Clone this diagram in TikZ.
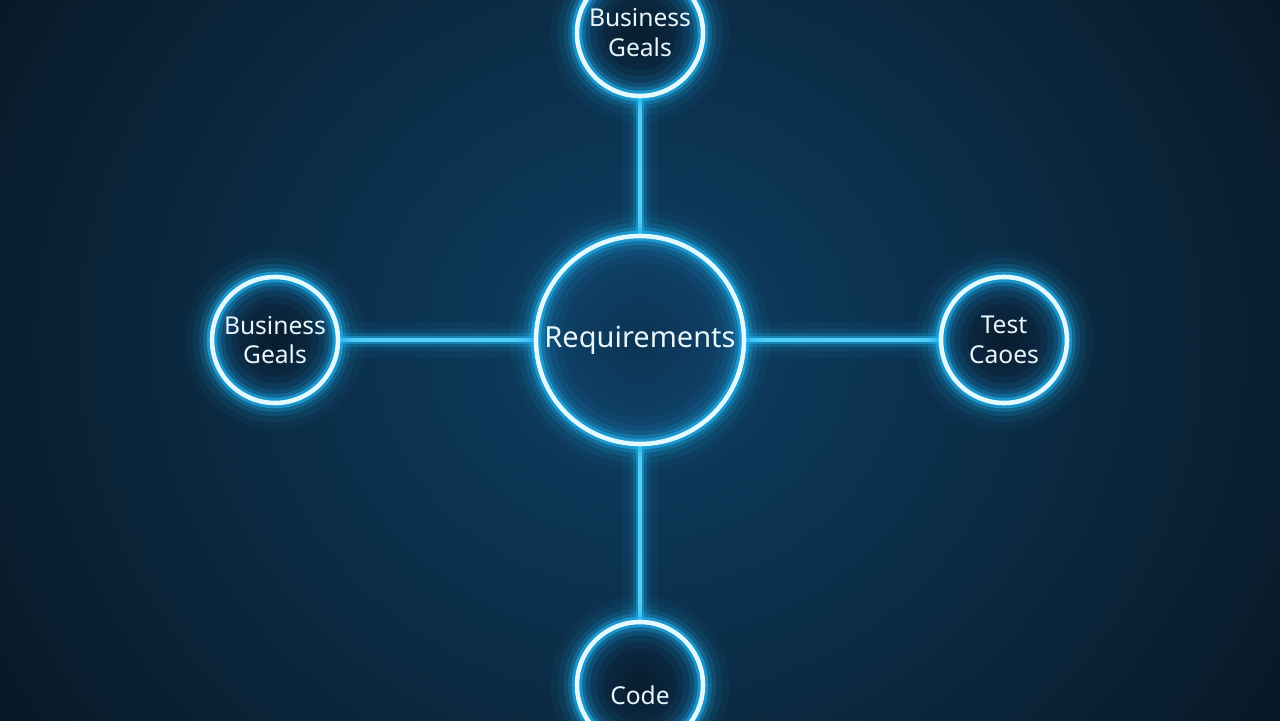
\documentclass[tikz,border=0pt]{standalone}
\usepackage{fontspec}
\setmainfont{Noto Sans}
\pgfdeclarelayer{bg}
\pgfdeclarelayer{glow}
\pgfsetlayers{bg,glow,main}
\definecolor{bgin}{HTML}{0E3F64}
\definecolor{bgout}{HTML}{07121C}
\definecolor{glowc}{HTML}{1FB4F0}
\definecolor{corec}{HTML}{E2F9FF}
\definecolor{linec}{HTML}{55D0F8}
\definecolor{hubin}{HTML}{0C3454}
\definecolor{hubout}{HTML}{10426A}
\definecolor{satin}{HTML}{081C2C}
\definecolor{satout}{HTML}{0D3050}
\definecolor{txt}{HTML}{E8F6FB}
\tikzset{
  hub/.style={circle, inner sep=0pt, minimum size=4.16cm, draw=corec, line width=2.6pt,
    text=txt, font=\fontsize{16.5}{20}\selectfont},
  sat/.style={circle, inner sep=0pt, minimum size=2.52cm, draw=corec, line width=2.6pt,
    text=txt, align=center, font=\fontsize{14}{17}\selectfont},
  linkcore/.style={draw=linec, line width=2.2pt},
}
\begin{document}
\begin{tikzpicture}
\useasboundingbox (0,0) rectangle (25.6,14.4);
\begin{pgfonlayer}{bg}
  \begin{scope}
    \clip (0,0) rectangle (25.6,14.4);
    \shade[inner color=bgin, outer color=bgout] (-5,-9) rectangle (30.6,24.2);
  \end{scope}
\end{pgfonlayer}

\node[hub] (req) at (12.8,7.6) {Requirements};
\node[sat] (top) at (12.8,13.74) {Business\\Geals};
\node[sat] (left) at (5.5,7.6) {Business\\Geals};
\node[sat] (right) at (20.08,7.6) {Test\\Caoes};
\node[sat, label={[text=txt, font=\fontsize{14}{17}\selectfont, yshift=-0.2cm]center:Code}] (code) at (12.8,0.7) {};

\begin{pgfonlayer}{bg}
  \shade[inner color=hubin, outer color=hubout] (req.center) circle (2.08cm);
  \foreach \n in {top,left,right,code}
    \shade[inner color=satin, outer color=satout] (\n.center) circle (1.26cm);
\end{pgfonlayer}

\begin{pgfonlayer}{glow}
  % connector glow
  \foreach \w/\o in {20/0.05,13/0.1,8/0.2,5/0.45} {
    \draw[glowc, line width=\w pt, opacity=\o] (req) -- (top);
    \draw[glowc, line width=\w pt, opacity=\o] (req) -- (left);
    \draw[glowc, line width=\w pt, opacity=\o] (req) -- (right);
    \draw[glowc, line width=\w pt, opacity=\o] (req) -- (code);
  }
  \draw[linkcore] (req) -- (top);
  \draw[linkcore] (req) -- (left);
  \draw[linkcore] (req) -- (right);
  \draw[linkcore] (req) -- (code);
  % ring glow
  \foreach \w/\o in {30/0.05,22/0.08,15/0.14,10/0.25,6/0.6} {
    \draw[glowc, line width=\w pt, opacity=\o] (req.center) circle (2.08cm);
    \foreach \n in {top,left,right,code}
      \draw[glowc, line width=\w pt, opacity=\o] (\n.center) circle (1.26cm);
  }
\end{pgfonlayer}
\end{tikzpicture}
\end{document}
